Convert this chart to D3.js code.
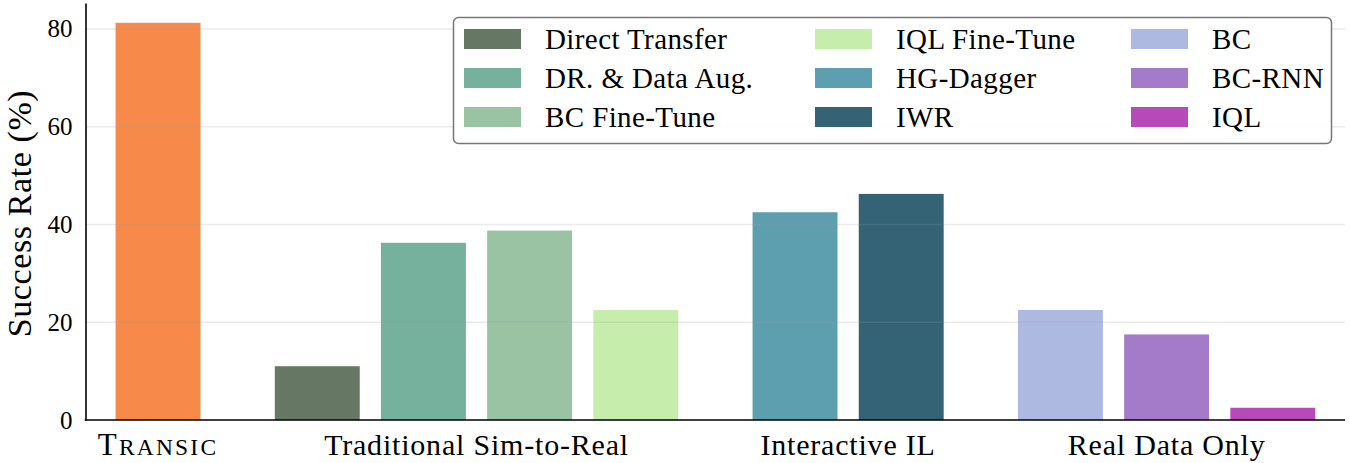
<!DOCTYPE html>
<html>
<head>
<meta charset="utf-8">
<script src="https://cdn.jsdelivr.net/npm/d3@7"></script>
<style>
  html, body { margin: 0; padding: 0; background: #fff; }
  svg { display: block; }
  text { font-family: "Liberation Serif", "Times New Roman", serif; fill: #000; }
</style>
</head>
<body>
<svg id="chart" width="1350" height="463"></svg>
<script>
// ---------- data ----------
const groups = ["Transic", "Traditional Sim-to-Real", "Interactive IL", "Real Data Only"];
const methods = ["Transic", "Direct Transfer", "DR. & Data Aug.", "BC Fine-Tune", "IQL Fine-Tune",
                 "HG-Dagger", "IWR", "BC", "BC-RNN", "IQL"];
const methodGroup = [0, 1, 1, 1, 1, 2, 2, 3, 3, 3];
const successRate = [81.25, 11, 36.25, 38.75, 22.5, 42.5, 46.25, 22.5, 17.5, 2.5];
const colors = ["#F78A4B", "#667863", "#75B19D", "#9AC3A3", "#C6EDAB",
                "#5E9FAF", "#336374", "#AEB9E2", "#A47BC8", "#B849B8"];
const yTicks = [0, 20, 40, 60, 80];
const legendItems = methods.slice(1);

// ---------- layout ----------
const FONT = "Liberation Serif";
const svg = d3.select("#chart");
const groupGap = 1.5;
const pos = [];
methods.forEach((m, i) => {
  if (i === 0) pos.push(0);
  else pos.push(pos[i - 1] + (methodGroup[i] !== methodGroup[i - 1] ? groupGap : 1));
});
const barW = 0.8;

const x = d3.scaleLinear().domain([-0.683, 11.18]).range([85.5, 1345]);
const y = d3.scaleLinear().domain([0, 85.3]).range([420, 3]);

// bars
svg.append("g").selectAll("rect").data(methods).join("rect")
  .attr("x", (d, i) => x(pos[i] - barW / 2))
  .attr("width", (d, i) => x(pos[i] + barW / 2) - x(pos[i] - barW / 2))
  .attr("y", (d, i) => y(successRate[i]))
  .attr("height", (d, i) => y(0) - y(successRate[i]))
  .attr("fill", (d, i) => colors[i]);

// grid
svg.append("g").selectAll("line").data(yTicks.slice(1)).join("line")
  .attr("x1", x.range()[0]).attr("x2", x.range()[1])
  .attr("y1", d => y(d)).attr("y2", d => y(d))
  .attr("stroke", "#9b9b9b").attr("stroke-opacity", 0.2).attr("stroke-width", 1.5);

// y axis
const yAxis = d3.axisLeft(y).tickValues(yTicks).tickSize(0).tickPadding(13);
const yg = svg.append("g").attr("transform", `translate(${x.range()[0]},0)`).call(yAxis);
yg.attr("font-family", FONT);
yg.select(".domain").attr("stroke", "#000").attr("stroke-width", 1.6);
yg.selectAll("text").attr("font-size", 25).attr("font-family", FONT).attr("fill", "#000");

// x axis line
svg.append("line")
  .attr("x1", x.range()[0] - 0.8).attr("x2", x.range()[1])
  .attr("y1", y(0)).attr("y2", y(0))
  .attr("stroke", "#000").attr("stroke-width", 1.6);

// group labels
const groupCenters = groups.map((g, gi) => {
  const p = pos.filter((_, i) => methodGroup[i] === gi);
  return (d3.min(p) + d3.max(p)) / 2;
});
groups.forEach((g, gi) => {
  const t = svg.append("text")
    .attr("x", x(groupCenters[gi])).attr("y", 455)
    .attr("text-anchor", "middle").attr("font-size", 30)
    .attr("font-family", FONT);
  if (gi === 0) {
    t.attr("letter-spacing", 2.2);
    t.append("tspan").attr("font-size", 31).text("T");
    t.append("tspan").attr("font-size", 23.5).text("RANSIC");
  } else {
    t.attr("letter-spacing", 0.8).text(g);
  }
});

// y label
svg.append("text")
  .attr("transform", `translate(31,${(y(0) + y.range()[1]) / 2 + 2}) rotate(-90)`)
  .attr("text-anchor", "middle").attr("font-size", 34)
  .attr("letter-spacing", 0.6)
  .attr("font-family", FONT)
  .text("Success Rate (%)");

// legend
const leg = svg.append("g");
leg.append("rect")
  .attr("x", 453.5).attr("y", 17.5).attr("width", 878).attr("height", 126)
  .attr("rx", 5).attr("ry", 5)
  .attr("fill", "#fff").attr("fill-opacity", 0.9)
  .attr("stroke", "#777").attr("stroke-width", 1.5);
const colX = [464, 815, 1131];
const rowY = [29, 68, 107];
legendItems.forEach((m, k) => {
  const c = Math.floor(k / 3), r = k % 3;
  const idx = methods.indexOf(m);
  leg.append("rect")
    .attr("x", colX[c]).attr("y", rowY[r]).attr("width", 57).attr("height", 20)
    .attr("fill", colors[idx]);
  leg.append("text")
    .attr("x", colX[c] + 81).attr("y", rowY[r] + 20)
    .attr("font-size", 29).attr("font-family", FONT)
    .attr("letter-spacing", 0.4).text(m);
});
</script>
</body>
</html>
